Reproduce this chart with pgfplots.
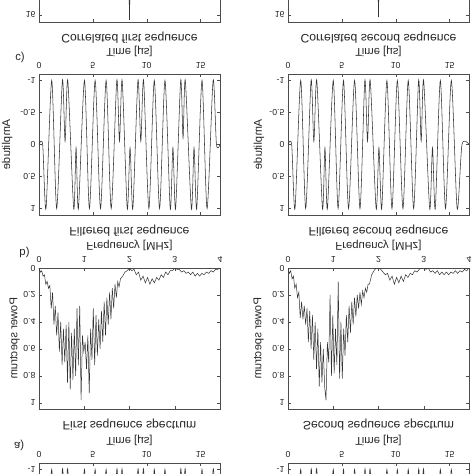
\documentclass[border=0pt]{standalone}
\usepackage{pgfplots}
\usepackage{pgfplotstable}
\pgfplotsset{compat=1.18}
\usepackage{fontspec}
\setmainfont{Liberation Sans}

\pgfplotstableread{
t v
0 0
0.34 0
0.65 1
1.18 -1
1.64 1
2.17 -1
2.42 -0.05
2.67 -1
3.22 1
3.44 0.05
3.66 1
4.22 -1
4.68 1
5.21 -1
5.71 1
6.23 -1
6.70 1
7.22 -1
7.47 -0.05
7.72 -1
8.19 1
8.45 0.05
8.71 1
9.18 -1
9.45 -0.05
9.71 -1
10.20 1
10.70 -1
11.19 1
11.69 -1
12.18 1
12.43 0.05
12.68 1
13.15 -1
13.37 -0.1
13.58 -1
14.14 1
14.39 0.05
14.64 1
15.13 -1
15.60 1
16.16 -1
16.47 0
16.80 0
}\filtA

\pgfplotstableread{
t v
0 0
0.34 0
0.65 1
1.18 -1
1.64 1
2.14 -1
2.40 -0.05
2.67 -1
3.20 1
3.43 0.05
3.66 1
4.20 -1
4.65 1
5.15 -1
5.62 1
6.18 -1
6.68 1
7.13 -1
7.38 -0.05
7.63 -1
8.18 1
8.44 0.05
8.70 1
9.18 -1
9.65 1
10.15 -1
10.67 1
11.16 -1
11.66 1
12.12 -1
12.36 -0.05
12.59 -1
13.15 1
13.41 0.05
13.67 1
14.14 -1
14.62 1
15.16 -1
15.70 1
16.15 0
16.80 0
}\filtB

\pgfplotstableread{
f p
0.00 0.00
0.03 0.03
0.06 0.02
0.09 0.06
0.12 0.05
0.15 0.12
0.18 0.10
0.21 0.15
0.24 0.13
0.27 0.30
0.30 0.18
0.33 0.42
0.36 0.28
0.39 0.50
0.42 0.33
0.45 0.62
0.48 0.40
0.51 0.72
0.54 0.45
0.57 0.70
0.60 0.42
0.63 0.85
0.66 0.40
0.69 0.90
0.72 0.48
0.75 0.83
0.78 0.45
0.81 0.80
0.84 0.30
0.87 0.72
0.90 0.28
0.93 0.98
0.96 0.50
0.99 0.62
1.02 0.55
1.05 0.75
1.08 0.50
1.11 0.93
1.14 0.45
1.17 0.68
1.20 0.30
1.23 0.72
1.26 0.35
1.29 0.65
1.32 0.38
1.35 0.60
1.38 0.32
1.41 0.55
1.44 0.25
1.47 0.50
1.50 0.22
1.53 0.42
1.56 0.18
1.59 0.38
1.62 0.15
1.65 0.30
1.68 0.12
1.71 0.22
1.74 0.10
1.77 0.14
1.80 0.08
1.85 0.06
1.90 0.03
1.95 0.02
2.00 0.00
2.05 0.02
2.10 0.01
2.15 0.05
2.20 0.03
2.25 0.09
2.30 0.06
2.35 0.11
2.40 0.07
2.45 0.12
2.50 0.08
2.55 0.11
2.60 0.07
2.65 0.09
2.70 0.05
2.75 0.07
2.80 0.03
2.85 0.05
2.90 0.02
2.95 0.02
3.00 0.00
3.05 0.01
3.10 0.01
3.15 0.03
3.20 0.02
3.25 0.04
3.30 0.03
3.35 0.05
3.40 0.03
3.45 0.06
3.50 0.04
3.55 0.06
3.60 0.04
3.65 0.05
3.70 0.03
3.75 0.04
3.80 0.02
3.85 0.03
3.90 0.01
3.95 0.01
4.00 0.00
}\specA

\pgfplotstableread{
f p
0.00 0.00
0.03 0.04
0.06 0.02
0.09 0.08
0.12 0.06
0.15 0.15
0.18 0.12
0.21 0.22
0.24 0.18
0.27 0.37
0.30 0.25
0.33 0.38
0.36 0.28
0.39 0.42
0.42 0.30
0.45 0.55
0.48 0.32
0.51 0.60
0.54 0.35
0.57 0.68
0.60 0.40
0.63 0.75
0.66 0.45
0.69 0.88
0.72 0.55
0.75 0.85
0.78 0.60
0.81 0.88
0.84 0.98
0.87 0.55
0.90 0.70
0.93 0.20
0.96 0.80
0.99 0.35
1.02 0.78
1.05 0.45
1.08 0.72
1.11 0.10
1.14 0.82
1.17 0.40
1.20 0.82
1.23 0.45
1.26 0.65
1.29 0.35
1.32 0.55
1.35 0.28
1.38 0.48
1.41 0.25
1.44 0.42
1.47 0.22
1.50 0.36
1.53 0.20
1.56 0.30
1.59 0.18
1.62 0.27
1.65 0.17
1.68 0.22
1.71 0.15
1.74 0.18
1.77 0.12
1.80 0.12
1.85 0.05
1.90 0.02
1.95 0.00
2.00 0.00
2.05 0.01
2.10 0.03
2.15 0.05
2.20 0.04
2.25 0.09
2.30 0.06
2.35 0.12
2.40 0.07
2.45 0.11
2.50 0.06
2.55 0.10
2.60 0.05
2.65 0.07
2.70 0.04
2.75 0.05
2.80 0.02
2.85 0.03
2.90 0.01
2.95 0.00
3.00 0.00
3.05 0.01
3.10 0.00
3.15 0.03
3.20 0.02
3.25 0.04
3.30 0.02
3.35 0.05
3.40 0.03
3.45 0.05
3.50 0.03
3.55 0.05
3.60 0.03
3.65 0.04
3.70 0.02
3.75 0.04
3.80 0.02
3.85 0.03
3.90 0.01
3.95 0.02
4.00 0.00
}\specB

\tikzset{plab/.style={font=\fontsize{11.3}{12}\selectfont, text=black!85}}

\pgfplotsset{
  mstyle/.style={
    scale only axis, width=181pt, height=141pt,
    clip mode=individual,
    axis line style={line width=0.5pt, black!70},
    every tick/.style={black!70, line width=0.4pt},
    major tick length=3pt,
    tick align=inside,
    tick pos=both,
    xticklabel pos=lower, yticklabel pos=left,
    /pgf/number format/assume math mode=true,
    tick label style={font=\fontsize{8.7}{9}\selectfont, text=black!85},
    xticklabel style={yshift=-2pt},
    label style={font=\fontsize{11.3}{12}\selectfont, text=black!85},
    title style={font=\fontsize{12.2}{13}\selectfont, text=black!85,
      at={(axis description cs:0.5,1.065)}, anchor=center},
    xlabel style={at={(axis description cs:0.5,-0.16)}, anchor=center},
  },
  timeax/.style={mstyle, xmin=0, xmax=16.8, ymin=-1.1, ymax=1.1,
    xtick={0,5,10,15}, ytick={-1,-0.5,0,0.5,1},
    xlabel={Time [\textmu s]}, ylabel={Amplitude}},
  specax/.style={mstyle, xmin=0, xmax=4, ymin=0, ymax=1.045,
    xtick={0,1,2,3,4}, ytick={0,0.2,0.4,0.6,0.8,1},
    xlabel={Frequency [MHz]}, ylabel={Power spectrum}},
  corrax/.style={mstyle, xmin=0, xmax=16.8, ymin=-3, ymax=17,
    xtick={0,5,10,15}, ytick={-16,-8,0,8,16},
    xlabel={Time [\textmu s]}},
  ylab/.style={ylabel style={at={(axis description cs:#1,0.5)}, anchor=center}},
  sig/.style={black!80, line width=0.55pt, smooth, tension=0.45},
  spec/.style={black!80, line width=0.5pt},
}

\begin{document}
\begin{tikzpicture}[yscale=-1, transform shape]
\clip (0pt,0pt) rectangle (474pt,474pt);
% ---- d) correlation (top, mostly cut)
\begin{axis}[corrax, at={(39pt,-119pt)}, anchor=south west, title={Correlated first sequence}]
\addplot[spec] coordinates {(0,0) (7.9,0.5) (8.2,-2) (8.4,16.7) (8.6,-2) (8.9,0.5) (16.8,0)};
\end{axis}
\begin{axis}[corrax, at={(288pt,-119pt)}, anchor=south west, title={Correlated second sequence}]
\addplot[spec] coordinates {(0,0) (7.9,0.5) (8.2,-2) (8.4,16.3) (8.6,-2) (8.9,0.5) (16.8,0)};
\end{axis}
% ---- c) filtered
\begin{axis}[timeax, ylab=-0.175, at={(39pt,74pt)}, anchor=south west, title={Filtered first sequence}]
\addplot[sig] table[x=t,y=v] {\filtA};
\node[plab] at (axis description cs:-0.105,-0.12) {c)};
\end{axis}
\begin{axis}[timeax, ylab=-0.16, at={(288pt,74pt)}, anchor=south west, title={Filtered second sequence}]
\addplot[sig] table[x=t,y=v] {\filtB};
\end{axis}
% ---- b) spectra
\begin{axis}[specax, ylab=-0.135, at={(39pt,268pt)}, anchor=south west, title={First sequence spectrum}]
\addplot[spec] table[x=f,y=p] {\specA};
\node[plab] at (axis description cs:-0.08,-0.11) {b)};
\end{axis}
\begin{axis}[specax, ylab=-0.162, at={(288pt,268pt)}, anchor=south west, title={Second sequence spectrum}]
\addplot[spec] table[x=f,y=p] {\specB};
\end{axis}
% ---- a) time signals (bottom, mostly cut)
\begin{axis}[timeax, at={(39pt,463pt)}, anchor=south west, title={First sequence}]
\addplot[sig] table[x=t,y=v] {\filtA};
\node[plab] at (axis description cs:-0.11,-0.125) {a)};
\end{axis}
\begin{axis}[timeax, at={(288pt,463pt)}, anchor=south west, title={Second sequence}]
\addplot[sig] table[x=t,y=v] {\filtB};
\end{axis}
\end{tikzpicture}
\end{document}
